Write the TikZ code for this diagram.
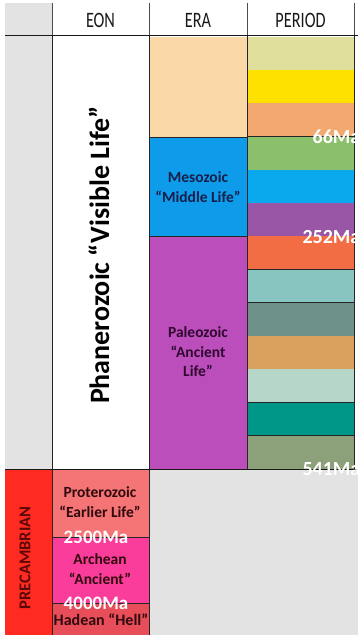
\documentclass[tikz,border=0pt]{standalone}
\usepackage{fontspec}
\setmainfont{Carlito}
\definecolor{lgray}{HTML}{E3E3E3}
\definecolor{cenoz}{HTML}{FBD8A8}
\definecolor{mesoz}{HTML}{0E9BEA}
\definecolor{paleoz}{HTML}{BC4EBC}
\definecolor{pA}{HTML}{E0E09C}
\definecolor{pB}{HTML}{FFE100}
\definecolor{pC}{HTML}{F2A86F}
\definecolor{pD}{HTML}{8CBF6C}
\definecolor{pE}{HTML}{0AA8EC}
\definecolor{pF}{HTML}{9A56A6}
\definecolor{pG}{HTML}{F26C44}
\definecolor{pH}{HTML}{88C4C0}
\definecolor{pI}{HTML}{6E928A}
\definecolor{pJ}{HTML}{DAA05E}
\definecolor{pK}{HTML}{B6D6CA}
\definecolor{pL}{HTML}{009688}
\definecolor{pM}{HTML}{8CA07A}
\definecolor{precam}{HTML}{FF2A20}
\definecolor{proter}{HTML}{F57475}
\definecolor{archean}{HTML}{FA3C9A}
\definecolor{hadean}{HTML}{E84E5A}
\definecolor{navytxt}{HTML}{16204A}
\definecolor{purptxt}{HTML}{300830}
\definecolor{redtxt}{HTML}{300A0C}
\definecolor{precamtxt}{HTML}{5A0808}
\begin{document}
\begin{tikzpicture}[x=1pt,y=-1pt,
  cellline/.style={draw=black!85,line width=0.8pt},
  hdr/.style={font=\fontsize{22}{24}\selectfont, inner sep=0pt, text=black!90},
  eratxt/.style={font=\bfseries\fontsize{15.5}{19.5}\selectfont, align=center, inner sep=0pt},
  matxt/.style={font=\bfseries\fontsize{20}{22}\selectfont, text=white, inner sep=0pt}]
\useasboundingbox (0,0) rectangle (360,640);
\fill[white] (0,0) rectangle (360,640);
\begin{scope}
\clip (0,0) rectangle (360,640);
% left gray column
\fill[lgray] (5,3) rectangle (52,469);
% header
\fill[white] (52,3) rectangle (354,35);
% eon body
\fill[white] (52,37) rectangle (149,469);
% eras
\fill[cenoz] (149,37) rectangle (247,137);
\fill[mesoz] (149,137) rectangle (247,236);
\fill[paleoz] (149,236) rectangle (247,469);
\draw[cellline] (149,137) -- (247,137);
\draw[cellline] (149,236) -- (247,236);
% periods
\foreach \c [count=\i from 0] in {pA,pB,pC,pD,pE,pF,pG,pH,pI,pJ,pK,pL,pM}{
  \fill[\c] (247,{37+\i*33.23}) rectangle (354,{37+(\i+1)*33.23});
  \draw[cellline] (247,{37+(\i+1)*33.23}) -- (354,{37+(\i+1)*33.23});
}
% precambrian
\fill[precam] (5,469) rectangle (52,635);
\fill[proter] (52,469) rectangle (149,537);
\fill[archean] (52,537) rectangle (149,603);
\fill[hadean] (52,603) rectangle (149,635);
\fill[lgray] (149,469) rectangle (358,635);
\draw[cellline] (52,537) -- (149,537);
\draw[cellline] (52,603) -- (149,603);
% grid lines
\draw[black!70,line width=0.8pt] (52,3) -- (52,35) (149,3) -- (149,35) (247,3) -- (247,35) (354,3) -- (354,35);
\draw[cellline] (52,35) -- (52,635);
\draw[cellline] (149,35) -- (149,635);
\draw[cellline] (247,35) -- (247,469);
\draw[cellline] (354,35) -- (354,469);
\draw[black!90,line width=1.8pt] (5,35.5) -- (358,35.5);
\draw[black!90,line width=1.6pt] (5,469.5) -- (358,469.5);
% header texts
\node[hdr] (eon) at (100.5,20) {\scalebox{0.74}[1]{EON}};
\node[hdr] (era) at (198,20) {\scalebox{0.74}[1]{ERA}};
\node[hdr] (period) at (300.5,20) {\scalebox{0.74}[1]{PERIOD}};
% eon texts
\node[font=\bfseries\fontsize{28}{30}\selectfont, rotate=90, inner sep=0pt] (phan) at (99,255) {Phanerozoic “Visible Life”};
\node[font=\bfseries\fontsize{16.5}{18}\selectfont, rotate=90, inner sep=0pt, text=precamtxt] (precamb) at (25,558) {PRECAMBRIAN};
% era texts
\node[eratxt, text=navytxt] (meso) at (198,187) {Mesozoic\\“Middle Life”};
\node[eratxt, text=purptxt] (paleo) at (198,352) {Paleozoic\\“Ancient\\Life”};
\node[eratxt, text=redtxt] (protero) at (100,502) {Proterozoic\\“Earlier Life”};
\node[eratxt, text=redtxt] (arch) at (100,569) {Archean\\“Ancient”};
\node[eratxt, text=redtxt, font=\bfseries\fontsize{16}{18}\selectfont] (hade) at (101,620) {Hadean “Hell”};
% Ma labels
\node[matxt, anchor=east] (m66) at (360.5,137) {66Ma};
\node[matxt, anchor=east] (m252) at (360.5,237) {252Ma};
\node[matxt, anchor=east] (m541) at (360.5,469) {541Ma};
\node[matxt, font=\bfseries\fontsize{19}{21}\selectfont] (m2500) at (96,537) {2500Ma};
\node[matxt, font=\bfseries\fontsize{19}{21}\selectfont] (m4000) at (96,603) {4000Ma};
\end{scope}
\end{tikzpicture}
\end{document}
